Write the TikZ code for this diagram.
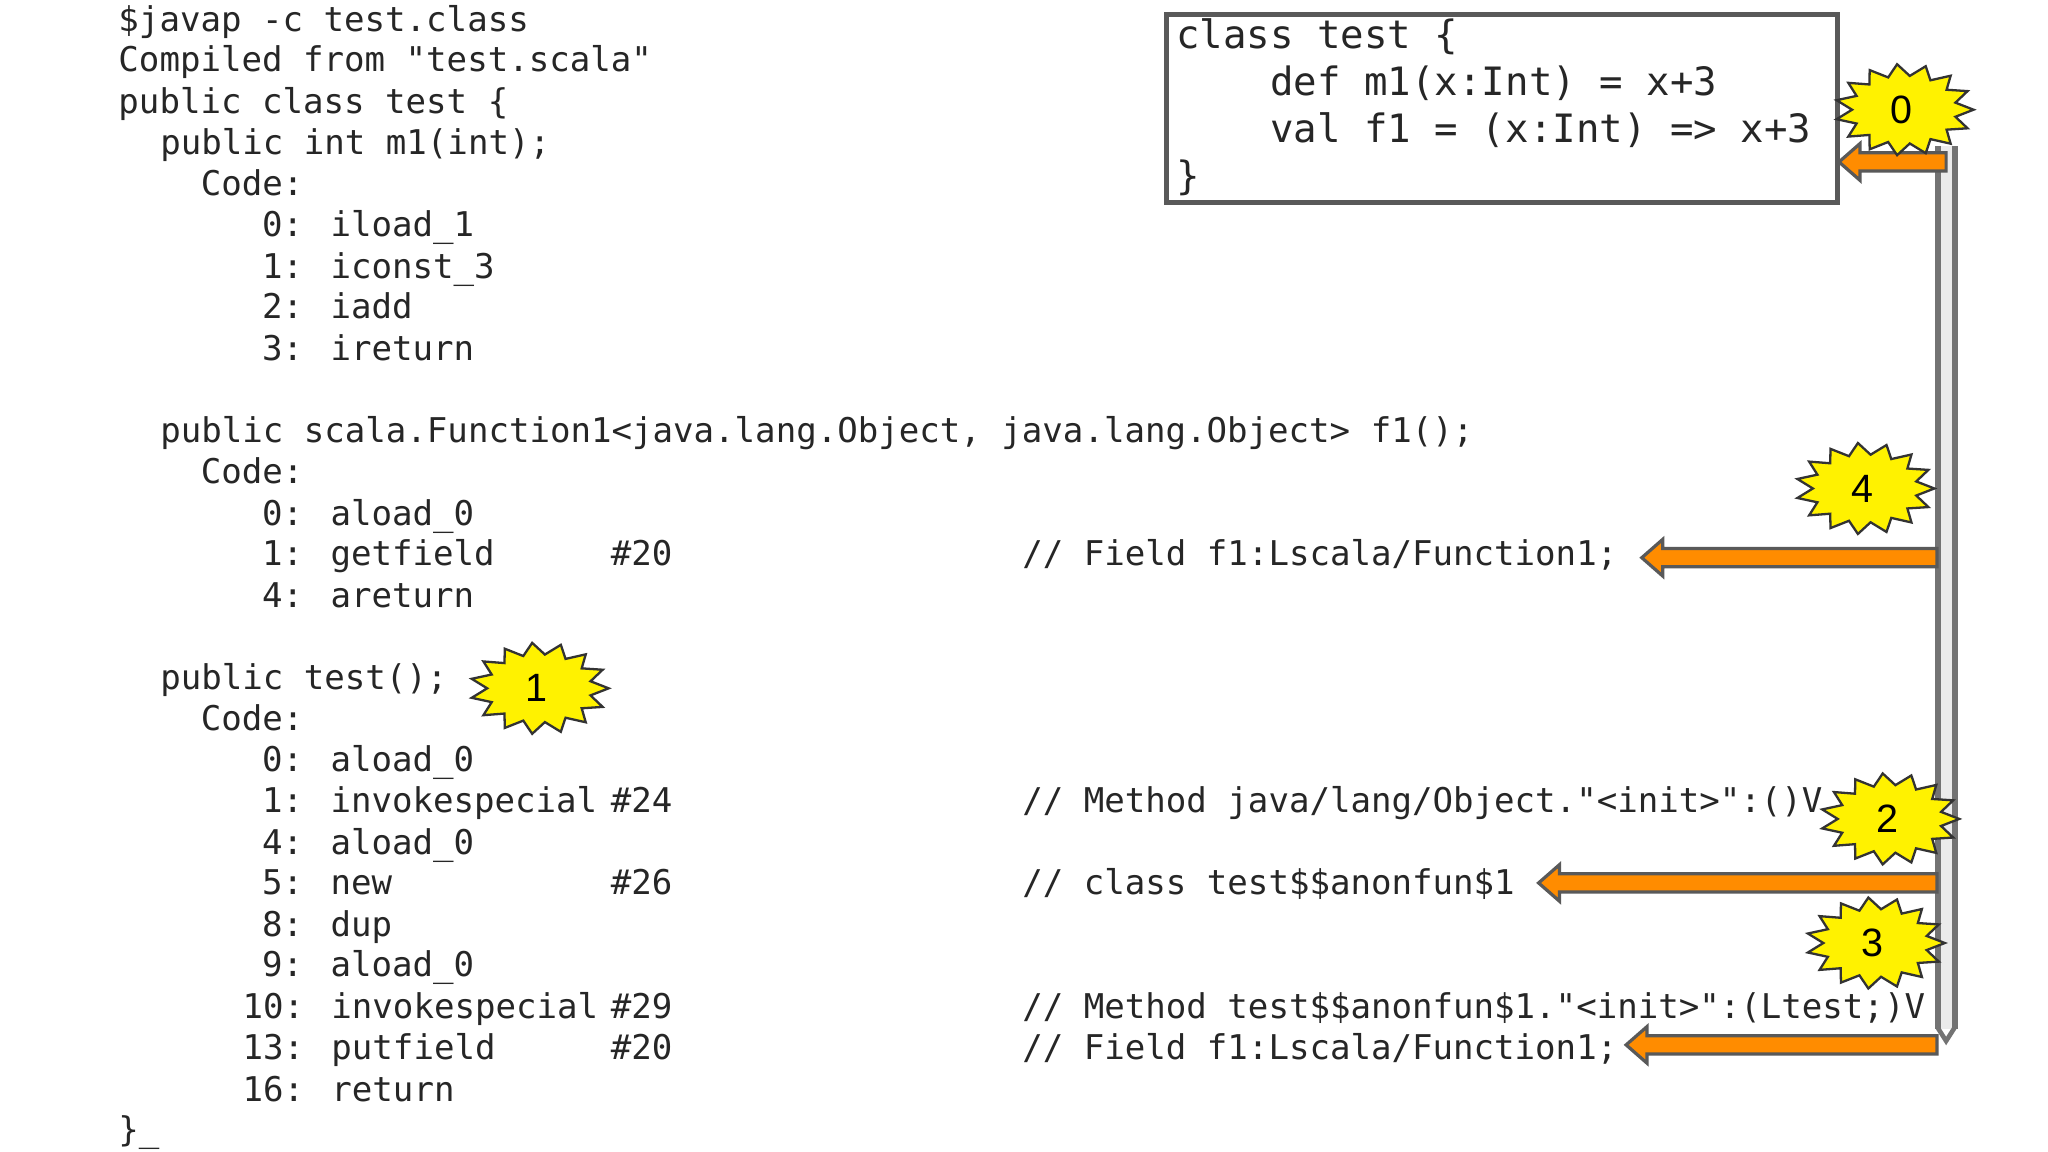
\documentclass[tikz,border=0pt]{standalone}
\usepackage{fontspec}
\setmainfont{Liberation Sans}
\newfontfamily\code{DejaVu Sans Mono}
\tikzset{
 ln/.style={anchor=base west, inner sep=0pt, font=\code\fontsize{7.42}{8}\selectfont, text=black!85},
 bx/.style={anchor=base west, inner sep=0pt, font=\code\fontsize{8.5}{9}\selectfont, text=black!85},
 num/.style={inner sep=0pt, font=\fontsize{8.6}{9}\selectfont},
 starst/.style={fill=yellow, draw=black!80, line width=0.5pt},
 fat/.style={fill=orange!90!yellow, draw=black!65, line width=0.7pt},
}
\newcommand{\burst}[3]{% name, x, y
  \draw[starst] plot[samples=31, domain=0:30, variable=\k]
    ({#2+ifthenelse(mod(\k,2)==0,53,40)*cos(\k*12)}, {#3+ifthenelse(mod(\k,2)==0,35,26)*sin(\k*12)}) -- cycle;
}
\newcommand{\fatarrow}[3]{% y, tip x, tail x
  \draw[fat] (#3,#1-7) -- (#2+16,#1-7) -- (#2+16,#1-14) -- (#2,#1) -- (#2+16,#1+14) -- (#2+16,#1+7) -- (#3,#1+7) -- cycle;
}
\begin{document}
\begin{tikzpicture}[x=0.01cm,y=-0.01cm]
\useasboundingbox[fill=white] (0,0) rectangle (1568,882);
\begin{scope}[yshift=-0.03cm]
\node[ln] (l1) at (90,21) {\$javap -c test.class};
\node[ln] (l2) at (90,52) {Compiled from "test.scala"};
\node[ln] (l3) at (90,84) {public class test \{};
\node[ln] (l4) at (122,115) {public int m1(int);};
\node[ln] (l5) at (153,147) {Code:};
\node[ln] (l6) at (200,178) {0: iload\_1};
\node[ln] (l7) at (200,210) {1: iconst\_3};
\node[ln] (l8) at (200,241) {2: iadd};
\node[ln] (l9) at (200,273) {3: ireturn};
\node[ln] (l10) at (122,336) {public scala.Function1<java.lang.Object, java.lang.Object> f1();};
\node[ln] (l11) at (153,367) {Code:};
\node[ln] (l12) at (200,399) {0: aload\_0};
\node[ln] (l13) at (200,430) {1: getfield};
\node[ln] (l13b) at (467,430) {\#20};
\node[ln] (l13c) at (782,430) {// Field f1:Lscala/Function1;};
\node[ln] (l14) at (200,462) {4: areturn};
\node[ln] (l15) at (122,525) {public test();};
\node[ln] (l16) at (153,556) {Code:};
\node[ln] (l17) at (200,588) {0: aload\_0};
\node[ln] (l18) at (200,619) {1: invokespecial};
\node[ln] (l18b) at (467,619) {\#24};
\node[ln] (l18c) at (782,619) {// Method java/lang/Object."<init>":()V};
\node[ln] (l19) at (200,651) {4: aload\_0};
\node[ln] (l20) at (200,682) {5: new};
\node[ln] (l20b) at (467,682) {\#26};
\node[ln] (l20c) at (782,682) {// class test\$\$anonfun\$1};
\node[ln] (l21) at (200,714) {8: dup};
\node[ln] (l22) at (200,745) {9: aload\_0};
\node[ln] (l23) at (185,777) {10: invokespecial};
\node[ln] (l23b) at (467,777) {\#29};
\node[ln] (l23c) at (782,777) {// Method test\$\$anonfun\$1."<init>":(Ltest;)V};
\node[ln] (l24) at (185,808) {13: putfield};
\node[ln] (l24b) at (467,808) {\#20};
\node[ln] (l24c) at (782,808) {// Field f1:Lscala/Function1;};
\node[ln] (l25) at (185,840) {16: return};
\node[ln] (l26) at (90,871) {\}\_};
\end{scope}
% source box
\draw[black!65, line width=1.2pt] (893,11) rectangle (1407,155);
\node[bx] (s1) at (900,37) {class test \{};
\node[bx] (s2) at (972,73) {def m1(x:Int) = x+3};
\node[bx] (s3) at (972,109) {val f1 = (x:Int) => x+3};
\node[bx] (s4) at (900,145) {\}};
% vertical line
\coordinate (vt) at (1490,112);
\coordinate (vb) at (1490,797);
\draw[black!55, line width=5pt] (vt) -- (1490,788);
\draw[black!8, line width=2.4pt] (vt) -- (1490,788);
\draw[black!55, line width=1pt] (1483,786) -- (vb) -- (1497,786);
% arrows
\fatarrow{124}{1408}{1490}
\fatarrow{427}{1257}{1483}
\fatarrow{676}{1178}{1483}
\fatarrow{800}{1245}{1483}
% bursts
\burst{b0}{1458}{84}
\node[num] (n0) at (1456,84) {0};
\burst{b1}{413}{527}
\node[num] (n1) at (411,527) {1};
\burst{b4}{1428}{374}
\node[num] (n4) at (1426,374) {4};
\burst{b2}{1447}{627}
\node[num] (n2) at (1445,627) {2};
\burst{b3}{1436}{722}
\node[num] (n3) at (1434,722) {3};
\end{tikzpicture}
\end{document}
